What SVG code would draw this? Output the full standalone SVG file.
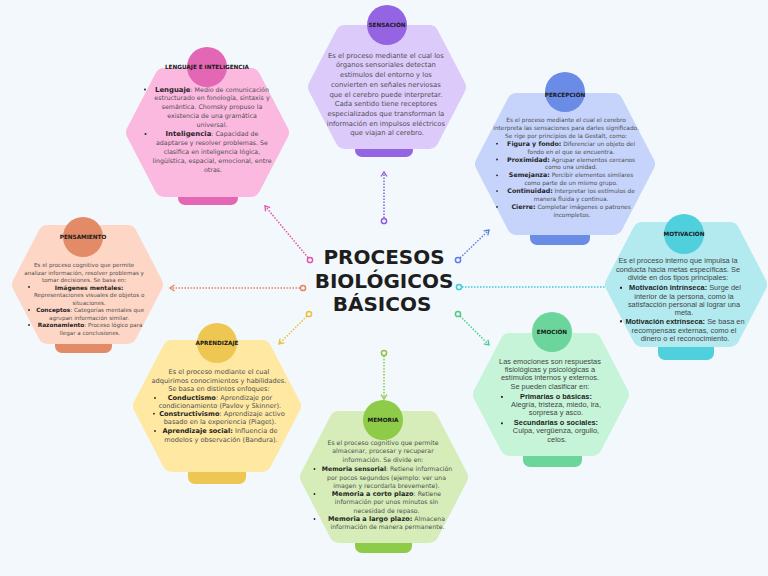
<svg xmlns="http://www.w3.org/2000/svg" width="768" height="576" viewBox="0 0 768 576">
<style>
.hx{stroke-width:20;stroke-linejoin:round}
.tx{font-family:"DejaVu Sans",sans-serif;fill:#4f4f4f;text-anchor:middle}
.lt{font-family:"Liberation Sans",Arial,sans-serif;fill:#444;text-anchor:middle;font-size:7.4px}
.ti{font-family:"DejaVu Sans",sans-serif;font-weight:bold;font-size:5.7px;fill:#1a1a1a;text-anchor:middle}
.b{font-weight:bold;fill:#1f1f1f}
.con{fill:none;stroke-width:1.5;stroke-dasharray:1.5 1.5}
.ring{fill:#F3F8FD;stroke-width:1.5}
.main{font-family:"DejaVu Sans",sans-serif;font-weight:bold;font-size:20px;fill:#1e1e1e;text-anchor:middle}
.ar{fill:none;stroke-width:1.3;stroke-linejoin:miter}
</style>
<defs>
<marker id="m1" viewBox="0 0 8 8" refX="6" refY="4" markerWidth="8" markerHeight="8" markerUnits="userSpaceOnUse" orient="auto"><path class="ar" d="M1.5,1 L6,4 L1.5,7" stroke="#E055A8"/></marker>
<marker id="m2" viewBox="0 0 8 8" refX="6" refY="4" markerWidth="8" markerHeight="8" markerUnits="userSpaceOnUse" orient="auto"><path class="ar" d="M1.5,1 L6,4 L1.5,7" stroke="#8A5CE0"/></marker>
<marker id="m3" viewBox="0 0 8 8" refX="6" refY="4" markerWidth="8" markerHeight="8" markerUnits="userSpaceOnUse" orient="auto"><path class="ar" d="M1.5,1 L6,4 L1.5,7" stroke="#5B7FE0"/></marker>
<marker id="m4" viewBox="0 0 8 8" refX="6" refY="4" markerWidth="8" markerHeight="8" markerUnits="userSpaceOnUse" orient="auto"><path class="ar" d="M1.5,1 L6,4 L1.5,7" stroke="#3FC8D8"/></marker>
<marker id="m5" viewBox="0 0 8 8" refX="6" refY="4" markerWidth="8" markerHeight="8" markerUnits="userSpaceOnUse" orient="auto"><path class="ar" d="M1.5,1 L6,4 L1.5,7" stroke="#4CCB8A"/></marker>
<marker id="m6" viewBox="0 0 8 8" refX="6" refY="4" markerWidth="8" markerHeight="8" markerUnits="userSpaceOnUse" orient="auto"><path class="ar" d="M1.5,1 L6,4 L1.5,7" stroke="#8CC63F"/></marker>
<marker id="m7" viewBox="0 0 8 8" refX="6" refY="4" markerWidth="8" markerHeight="8" markerUnits="userSpaceOnUse" orient="auto"><path class="ar" d="M1.5,1 L6,4 L1.5,7" stroke="#EDBE3E"/></marker>
<marker id="m8" viewBox="0 0 8 8" refX="6" refY="4" markerWidth="8" markerHeight="8" markerUnits="userSpaceOnUse" orient="auto"><path class="ar" d="M1.5,1 L6,4 L1.5,7" stroke="#E8845A"/></marker>
</defs>
<rect width="768" height="576" fill="#F3F8FD"/>

<g id="connectors">
<line class="con" x1="310" y1="260" x2="265" y2="206" stroke="#E055A8" marker-end="url(#m1)"/>
<circle class="ring" cx="310" cy="260" r="2.6" stroke="#E055A8"/>
<line class="con" x1="384" y1="221" x2="384" y2="172" stroke="#8A5CE0" marker-end="url(#m2)"/>
<circle class="ring" cx="384" cy="221" r="2.6" stroke="#8A5CE0"/>
<line class="con" x1="458" y1="260" x2="489" y2="230" stroke="#5B7FE0" marker-end="url(#m3)"/>
<circle class="ring" cx="458" cy="260" r="2.6" stroke="#5B7FE0"/>
<line class="con" x1="459" y1="287" x2="618" y2="287" stroke="#3FC8D8" marker-end="url(#m4)"/>
<circle class="ring" cx="459" cy="287" r="2.6" stroke="#3FC8D8"/>
<line class="con" x1="458" y1="314" x2="489" y2="345" stroke="#4CCB8A" marker-end="url(#m5)"/>
<circle class="ring" cx="458" cy="314" r="2.6" stroke="#4CCB8A"/>
<line class="con" x1="384" y1="353" x2="384" y2="399" stroke="#8CC63F" marker-end="url(#m6)"/>
<circle class="ring" cx="384" cy="353" r="2.6" stroke="#8CC63F"/>
<line class="con" x1="309" y1="314" x2="279" y2="344" stroke="#EDBE3E" marker-end="url(#m7)"/>
<circle class="ring" cx="309" cy="314" r="2.6" stroke="#EDBE3E"/>
<line class="con" x1="303" y1="288" x2="170" y2="288" stroke="#E8845A" marker-end="url(#m8)"/>
<circle class="ring" cx="303" cy="288" r="2.6" stroke="#E8845A"/>
</g>

<g id="center">
<text class="main" x="384" y="264">PROCESOS</text>
<text class="main" x="384" y="288">BIOLÓGICOS</text>
<text class="main" x="382" y="311">BÁSICOS</text>
</g>

<g id="lenguaje">
<rect x="178" y="180" width="60" height="25" rx="7" fill="#E467B5"/>
<polygon class="hx" points="136,132.5 164.3,78 250.7,78 279,132.5 250.7,187 164.3,187" fill="#FCB9E0" stroke="#FCB9E0"/>
<circle cx="207" cy="67" r="20" fill="#E467B5"/>
<text class="ti" x="207" y="68.6" font-size="5.5">LENGUAJE E INTELIGENCIA</text>
<circle cx="145" cy="89.5" r="1" fill="#222"/>
<circle cx="145.5" cy="134" r="1" fill="#222"/>
<text class="tx" font-size="6.3">
<tspan x="213" y="91.5"><tspan class="b" font-size="6.9">Lenguaje</tspan>: Medio de comunicación</tspan>
<tspan x="213" y="100.4">estructurado en fonología, sintaxis y</tspan>
<tspan x="213" y="109.3">semántica. Chomsky propuso la</tspan>
<tspan x="213" y="118.2">existencia de una gramática</tspan>
<tspan x="213" y="127.1">universal.</tspan>
<tspan x="213" y="136"><tspan class="b" font-size="6.9">Inteligencia</tspan>: Capacidad de</tspan>
<tspan x="213" y="144.9">adaptarse y resolver problemas. Se</tspan>
<tspan x="213" y="153.8">clasifica en inteligencia lógica,</tspan>
<tspan x="213" y="162.7">lingüística, espacial, emocional, entre</tspan>
<tspan x="213" y="171.6">otras.</tspan>
</text>
</g>

<g id="sensacion">
<rect x="355" y="132" width="58" height="25" rx="7" fill="#9564E3"/>
<polygon class="hx" points="318,87 345,35 429,35 456,87 429,139 345,139" fill="#DCCAFB" stroke="#DCCAFB"/>
<circle cx="387" cy="25" r="20" fill="#9564E3"/>
<text class="ti" x="387" y="27">SENSACIÓN</text>
<text class="tx" font-size="6.8" fill="#444">
<tspan x="387" y="57.7">Es el proceso mediante el cual los</tspan>
<tspan x="387" y="67.4">órganos sensoriales detectan</tspan>
<tspan x="387" y="77.1">estímulos del entorno y los</tspan>
<tspan x="387" y="86.8">convierten en señales nerviosas</tspan>
<tspan x="387" y="96.5">que el cerebro puede interpretar.</tspan>
<tspan x="387" y="106.2">Cada sentido tiene receptores</tspan>
<tspan x="387" y="115.9">especializados que transforman la</tspan>
<tspan x="387" y="125.6">información en impulsos eléctricos</tspan>
<tspan x="387" y="135.3">que viajan al cerebro.</tspan>
</text>
</g>

<g id="percepcion">
<rect x="530" y="220" width="60" height="25" rx="7" fill="#6A8BE6"/>
<polygon class="hx" points="485,164 516.7,103 613.3,103 645,164 613.3,225 516.7,225" fill="#C6D3FA" stroke="#C6D3FA"/>
<circle cx="565" cy="92" r="20" fill="#6A8BE6"/>
<text class="ti" x="565" y="97">PERCEPCIÓN</text>
<circle cx="497" cy="143.7" r="0.9" fill="#222"/>
<circle cx="497" cy="159.5" r="0.9" fill="#222"/>
<circle cx="497" cy="175.3" r="0.9" fill="#222"/>
<circle cx="497" cy="191.1" r="0.9" fill="#222"/>
<circle cx="497" cy="206.9" r="0.9" fill="#222"/>
<text class="tx" font-size="5.8">
<tspan x="567" y="122">Es el proceso mediante el cual el cerebro</tspan>
<tspan x="567" y="129.9">interpreta las sensaciones para darles significado.</tspan>
<tspan x="567" y="137.8">Se rige por principios de la Gestalt, como:</tspan>
<tspan x="572" y="145.7"><tspan class="b" font-size="6.3">Figura y fondo:</tspan> Diferenciar un objeto del</tspan>
<tspan x="572" y="153.6">fondo en el que se encuentra.</tspan>
<tspan x="572" y="161.5"><tspan class="b" font-size="6.3">Proximidad:</tspan> Agrupar elementos cercanos</tspan>
<tspan x="572" y="169.4">como una unidad.</tspan>
<tspan x="572" y="177.3"><tspan class="b" font-size="6.3">Semejanza:</tspan> Percibir elementos similares</tspan>
<tspan x="572" y="185.2">como parte de un mismo grupo.</tspan>
<tspan x="572" y="193.1"><tspan class="b" font-size="6.3">Continuidad:</tspan> Interpretar los estímulos de</tspan>
<tspan x="572" y="201">manera fluida y continua.</tspan>
<tspan x="572" y="208.9"><tspan class="b" font-size="6.3">Cierre:</tspan> Completar imágenes o patrones</tspan>
<tspan x="572" y="216.8">incompletos.</tspan>
</text>
</g>

<g id="pensamiento">
<rect x="55" y="328" width="57" height="25" rx="7" fill="#E38A66"/>
<polygon class="hx" points="22,284.5 47.7,235 127.3,235 153,284.5 127.3,334 47.7,334" fill="#FED6C6" stroke="#FED6C6"/>
<circle cx="83" cy="237" r="20" fill="#E38A66"/>
<text class="ti" x="83" y="238.5" font-size="5.6">PENSAMIENTO</text>
<circle cx="29" cy="287" r="0.9" fill="#222"/>
<circle cx="29" cy="310" r="0.9" fill="#222"/>
<circle cx="29" cy="325" r="0.9" fill="#222"/>
<text class="tx" font-size="5.6">
<tspan x="85" y="267">Es el proceso cognitivo que permite</tspan>
<tspan x="85" y="274.5">analizar información, resolver problemas y</tspan>
<tspan x="85" y="282">tomar decisiones. Se basa en:</tspan>
<tspan x="90" y="289.5" class="b" font-size="6">Imágenes mentales:</tspan>
<tspan x="90" y="297">Representaciones visuales de objetos o</tspan>
<tspan x="90" y="304.5">situaciones.</tspan>
<tspan x="91" y="312"><tspan class="b" font-size="5.8">Conceptos</tspan>: Categorías mentales que</tspan>
<tspan x="90" y="319.5">agrupan información similar.</tspan>
<tspan x="91" y="327"><tspan class="b" font-size="5.8">Razonamiento</tspan>: Proceso lógico para</tspan>
<tspan x="90" y="334.5">llegar a conclusiones.</tspan>
</text>
</g>

<g id="motivacion">
<rect x="658" y="335" width="56" height="25" rx="7" fill="#50D0DC"/>
<polygon class="hx" points="615,284.5 642.3,232 729.7,232 757,284.5 729.7,337 642.3,337" fill="#B3EAF0" stroke="#B3EAF0"/>
<circle cx="684" cy="234" r="20" fill="#50D0DC"/>
<text class="ti" x="684" y="236" font-size="5.5">MOTIVACIÓN</text>
<rect x="620" y="286.8" width="2" height="2" fill="#222"/>
<rect x="620" y="320.3" width="2" height="2" fill="#222"/>
<text class="lt">
<tspan x="679" y="263">Es el proceso interno que impulsa la</tspan>
<tspan x="679" y="271.7">conducta hacia metas específicas. Se</tspan>
<tspan x="679" y="280.4">divide en dos tipos principales:</tspan>
<tspan x="686" y="290.4"><tspan class="b">Motivación intrínseca:</tspan> Surge del</tspan>
<tspan x="685" y="298.6">interior de la persona, como la</tspan>
<tspan x="685" y="306.8">satisfacción personal al lograr una</tspan>
<tspan x="685" y="315">meta.</tspan>
<tspan x="686" y="324"><tspan class="b">Motivación extrínseca:</tspan> Se basa en</tspan>
<tspan x="685" y="332.7">recompensas externas, como el</tspan>
<tspan x="685" y="341.4">dinero o el reconocimiento.</tspan>
</text>
</g>

<g id="aprendizaje">
<rect x="188" y="459" width="58" height="25" rx="7" fill="#EEC652"/>
<polygon class="hx" points="143,406 172.1,350 261.9,350 291,406 261.9,462 172.1,462" fill="#FEE8A2" stroke="#FEE8A2"/>
<circle cx="217" cy="343" r="20" fill="#EEC652"/>
<text class="ti" x="217" y="344.5">APRENDIZAJE</text>
<circle cx="155" cy="398" r="0.9" fill="#222"/>
<circle cx="154" cy="413.7" r="0.9" fill="#222"/>
<circle cx="155" cy="431" r="0.9" fill="#222"/>
<text class="tx" font-size="6.6">
<tspan x="220" y="374.3">Es el proceso mediante el cual</tspan>
<tspan x="220" y="383.3">adquirimos conocimientos y habilidades.</tspan>
<tspan x="220" y="391">Se basa en distintos enfoques:</tspan>
<tspan x="221" y="400.3"><tspan class="b">Conductismo</tspan>: Aprendizaje por</tspan>
<tspan x="221" y="407.6">condicionamiento (Pavlov y Skinner).</tspan>
<tspan x="223" y="416"><tspan class="b">Constructivismo</tspan>: Aprendizaje activo</tspan>
<tspan x="221" y="424.3">basado en la experiencia (Piaget).</tspan>
<tspan x="221" y="433.3"><tspan class="b">Aprendizaje social:</tspan> Influencia de</tspan>
<tspan x="221" y="441.6">modelos y observación (Bandura).</tspan>
</text>
</g>

<g id="memoria">
<rect x="355" y="528" width="57" height="25" rx="7" fill="#8DCB48"/>
<polygon class="hx" points="310,477 339.1,421 428.9,421 458,477 428.9,533 339.1,533" fill="#D6ECB9" stroke="#D6ECB9"/>
<circle cx="383" cy="420" r="20" fill="#8DCB48"/>
<text class="ti" x="383" y="421.7">MEMORIA</text>
<circle cx="314.5" cy="469" r="0.9" fill="#222"/>
<circle cx="314.5" cy="494" r="0.9" fill="#222"/>
<circle cx="314.5" cy="519" r="0.9" fill="#222"/>
<text class="tx" font-size="6.2">
<tspan x="384" y="444.5">Es el proceso cognitivo que permite</tspan>
<tspan x="384" y="453">almacenar, procesar y recuperar</tspan>
<tspan x="384" y="462">información. Se divide en:</tspan>
<tspan x="388" y="471"><tspan class="b">Memoria sensorial</tspan>: Retiene información</tspan>
<tspan x="387.5" y="479.5">por pocos segundos (ejemplo: ver una</tspan>
<tspan x="387.5" y="487.5">imagen y recordarla brevemente).</tspan>
<tspan x="387.5" y="496"><tspan class="b" font-size="6.5">Memoria a corto plazo</tspan>: Retiene</tspan>
<tspan x="387.5" y="504.3">información por unos minutos sin</tspan>
<tspan x="387.5" y="513">necesidad de repaso.</tspan>
<tspan x="387.5" y="521"><tspan class="b" font-size="6.5">Memoria a largo plazo:</tspan> Almacena</tspan>
<tspan x="387.5" y="529.3">información de manera permanente.</tspan>
</text>
</g>

<g id="emocion">
<rect x="523" y="442" width="59" height="25" rx="7" fill="#6CD59C"/>
<polygon class="hx" points="483,394.5 509.8,343 592.2,343 619,394.5 592.2,446 509.8,446" fill="#C6F4D9" stroke="#C6F4D9"/>
<circle cx="552" cy="332" r="20" fill="#6CD59C"/>
<text class="ti" x="552" y="334">EMOCIÓN</text>
<rect x="501" y="396" width="1.8" height="1.8" fill="#222"/>
<rect x="501" y="422.4" width="1.8" height="1.8" fill="#222"/>
<text class="lt">
<tspan x="551" y="363.6">Las emociones son respuestas</tspan>
<tspan x="551" y="371.9">fisiológicas y psicológicas a</tspan>
<tspan x="551" y="380.3">estímulos internos y externos.</tspan>
<tspan x="551" y="388.6">Se pueden clasificar en:</tspan>
<tspan x="557" y="398.6" class="b">Primarias o básicas:</tspan>
<tspan x="557" y="407">Alegría, tristeza, miedo, ira,</tspan>
<tspan x="557" y="415.3">sorpresa y asco.</tspan>
<tspan x="557" y="425" class="b">Secundarias o sociales:</tspan>
<tspan x="557" y="433.3">Culpa, vergüenza, orgullo,</tspan>
<tspan x="557" y="442">celos.</tspan>
</text>
</g>
</svg>
